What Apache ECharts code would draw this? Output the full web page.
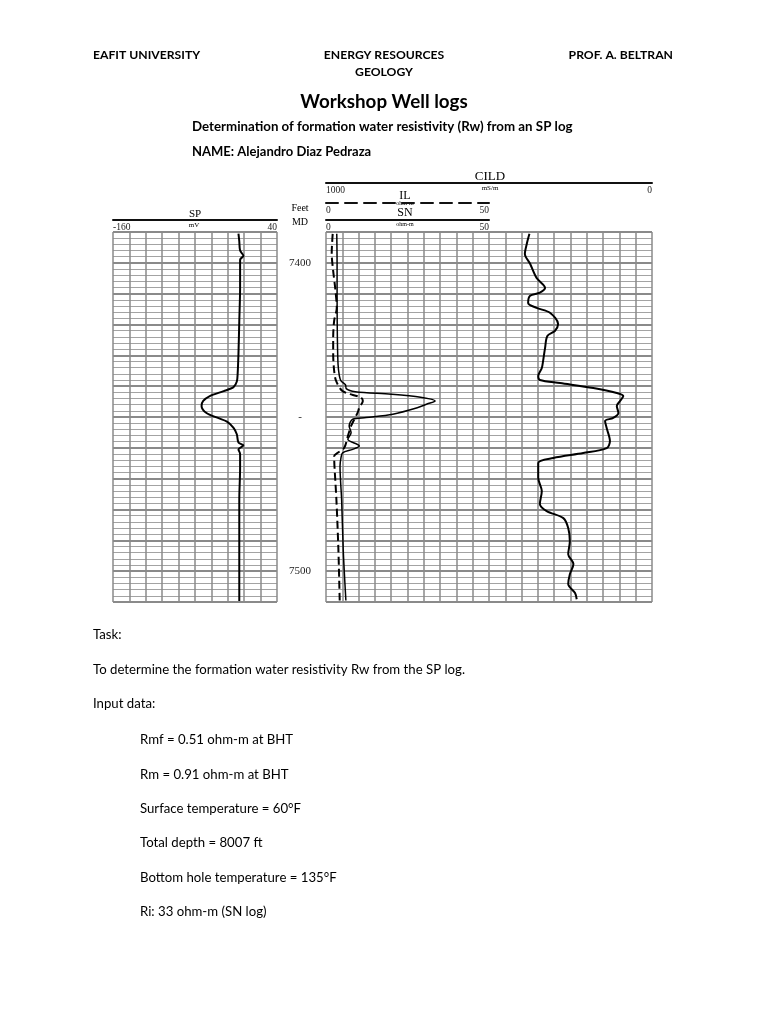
<!DOCTYPE html>
<html>
<head>
<meta charset="utf-8">
<script src="https://cdn.jsdelivr.net/npm/echarts@6/dist/echarts.min.js"></script>
<style>
	html, body { margin: 0; padding: 0; background: #fff; }
	#page { width: 768px; height: 1024px; }
</style>
</head>
<body>
<div id="page"></div>
<script>
// depth range of the log (feet MD)
var depthMin = 7390;
var depthMax = 7510;

// SP curve (mV)
var spDepth = [7390.5, 7393, 7396, 7397.7, 7399, 7402.5, 7408, 7419, 7429.5, 7436, 7438.5, 7440.3, 7441.6, 7443.2, 7444.8, 7446.4, 7448.7, 7450.3, 7451.5, 7453.5, 7455.6, 7458.3, 7459.2, 7460.5, 7462, 7466.5, 7477, 7488, 7509.7];
var spMv = [-7, -6, -5, -1, -5, -5, -5, -6, -7, -8, -9, -13, -25, -42, -50, -52, -46, -32, -21, -13, -9, -7, -1, -7, -5, -5, -6, -6, -6];

// IL curve (ohm-m), dashed
var ilDepth = [7390.6, 7397, 7402.6, 7408, 7414.6, 7418.8, 7424.4, 7429.5, 7435, 7438.3, 7441.6, 7443.7, 7444.8, 7447, 7448.6, 7452.9, 7456.2, 7460, 7461.6, 7462.7, 7466, 7477, 7493, 7509.5];
var ilOhm = [2.05, 1.75, 2.2, 2.8, 3.3, 2.5, 2.2, 2.2, 2.5, 3.1, 5.1, 10.7, 11.3, 10.2, 9.7, 7.7, 6.7, 5.6, 3.6, 2.5, 2.6, 3.2, 3.8, 4.2];

// SN curve (ohm-m)
var snDepth = [7390.6, 7400, 7412, 7425, 7433, 7436.7, 7438.3, 7439.6, 7440.8, 7441.8, 7442.6, 7443.6, 7444.8, 7445.8, 7447, 7449.1, 7450.2, 7450.7, 7452.9, 7455.1, 7457.2, 7459.4, 7460.5, 7461.6, 7463.2, 7466, 7477, 7493.5, 7509.5];
var snOhm = [3.3, 3.4, 3.4, 3.5, 3.7, 4.1, 4.6, 6.0, 6.2, 9, 20, 29, 33.5, 31, 28, 20.5, 12.3, 8.2, 7.1, 7.7, 6.7, 10.2, 8.2, 5.1, 4.6, 4.3, 4.8, 5.3, 6.1];

// CILD curve (mS/m)
var cildDepth = [7390.6, 7393.8, 7397.1, 7400.3, 7404.9, 7408.1, 7409.7, 7410.7, 7413, 7414.6, 7416.2, 7419.8, 7422.1, 7423.7, 7427.6, 7431.8, 7434.1, 7436.7, 7438, 7439, 7440.6, 7442.2, 7443.2, 7444.8, 7446.4, 7448.7, 7450.3, 7451.3, 7453.6, 7457.8, 7460.1, 7461.7, 7463.3, 7464.9, 7469.8, 7474, 7478.2, 7480.5, 7482.8, 7486, 7490.3, 7494.5, 7497.7, 7501, 7504.2, 7507.1, 7509.1];
var cildVal = [376, 384, 390, 374, 354, 328, 344, 374, 380, 354, 313, 288, 298, 321, 328, 334, 338, 349, 344, 282, 180, 108, 88, 98, 108, 103, 119, 144, 139, 129, 139, 211, 303, 349, 349, 338, 344, 323, 272, 257, 252, 257, 241, 252, 257, 236, 231];

// tick labels
var depthLabels = { 7400: '7400', 7450: '-', 7500: '7500' };
var spLabels = { '-160': '-160', '40': '40' };
var cildLabels = { '1000': '1000', '0': '0' };
var resLabels = { '0': '0', '50': '50' };

// document text
var headerLines = ['EAFIT UNIVERSITY', 'ENERGY RESOURCES', 'GEOLOGY', 'PROF. A. BELTRAN'];
var titleText = 'Workshop Well logs';
var subtitleText = 'Determination of formation water resistivity (Rw) from an SP log';
var nameText = 'NAME: Alejandro Diaz Pedraza';
var taskLines = ['Task:', 'To determine the formation water resistivity Rw from the SP log.', 'Input data:'];
var inputLines = ['Rmf = 0.51 ohm-m at BHT', 'Rm = 0.91 ohm-m at BHT', 'Surface temperature = 60°F', 'Total depth = 8007 ft', 'Bottom hole temperature = 135°F', 'Ri: 33 ohm-m (SN log)'];

function pairs(vals, depths) {
	var out = [];
	for (var i = 0; i < vals.length; i++) {
		out.push([vals[i], depths[i]]);
	}
	return out;
}

function txt(s, x, y, font, align) {
	align = align || 'left';
	return {
		type : 'text',
		x : x,
		y : y,
		silent : true,
		style : {
			text : s,
			font : font,
			fill : '#000',
			align : align,
			textAlign : align,
			verticalAlign : 'middle',
			textVerticalAlign : 'middle'
		}
	};
}

var sans = 'Lato, "Open Sans", sans-serif';
var serif = '"Liberation Serif", "DejaVu Serif", serif';
var gridGray = '#8a8a8a';
var minorGray = '#a3a3a3';

function depthAxis(gridIndex, withLabels) {
	return {
		type : 'value',
		gridIndex : gridIndex,
		inverse : true,
		min : depthMin,
		max : depthMax,
		interval : 10,
		position : 'right',
		axisLine : { show : false },
		axisTick : { show : false },
		axisLabel : {
			show : withLabels,
			margin : 23,
			align : 'center',
			fontFamily : serif,
			fontSize : 11,
			color : '#222',
			formatter : function(v) {
				return depthLabels[v] || '';
			}
		},
		splitLine : { show : true, lineStyle : { color : gridGray, width : 2 } },
		minorTick : { show : false, splitNumber : 5 },
		minorSplitLine : { show : true, lineStyle : { color : minorGray, width : 1 } }
	};
}

function trackAxis(gridIndex, min, max, interval, offset, labels, lineType, split) {
	return {
		type : 'value',
		gridIndex : gridIndex,
		min : min,
		max : max,
		interval : interval,
		position : 'top',
		offset : offset,
		axisLine : { show : true, onZero : false, lineStyle : { color : '#111', width : 2, type : lineType } },
		axisTick : { show : false },
		axisLabel : {
			inside : true,
			margin : 2,
			fontFamily : serif,
			fontSize : 9.5,
			color : '#222',
			alignMinLabel : 'left',
			alignMaxLabel : 'right',
			formatter : function(v) {
				return labels[String(v)] || '';
			}
		},
		splitLine : { show : split, lineStyle : { color : gridGray, width : 1.5 } }
	};
}

var graphics = [
	txt(headerLines[0], 93, 55, 'bold 12.2px ' + sans, 'left'),
	txt(headerLines[1], 384, 55, 'bold 12.2px ' + sans, 'center'),
	txt(headerLines[2], 384, 72, 'bold 12.2px ' + sans, 'center'),
	txt(headerLines[3], 673, 55, 'bold 12.2px ' + sans, 'right'),
	txt(titleText, 384, 102, 'bold 18.8px ' + sans, 'center'),
	txt(subtitleText, 192, 127, 'bold 13.3px ' + sans, 'left'),
	txt(nameText, 192, 152, 'bold 13px ' + sans, 'left'),
	// log headers
	txt('SP', 195, 214, '11px ' + serif, 'center'),
	txt('mV', 194, 225, '7px ' + serif, 'center'),
	txt('Feet', 300, 208, '10px ' + serif, 'center'),
	txt('MD', 300, 222, '10px ' + serif, 'center'),
	txt('CILD', 490, 177, '13px ' + serif, 'center'),
	txt('mS/m', 490, 188, '7px ' + serif, 'center'),
	txt('IL', 405, 196, '12px ' + serif, 'center'),
	txt('ohm-m', 405, 203, '6px ' + serif, 'center'),
	txt('SN', 405, 213, '12px ' + serif, 'center'),
	txt('ohm-m', 405, 224, '6px ' + serif, 'center')
];
var taskY = [635, 670, 704];
for (var i = 0; i < taskLines.length; i++) {
	graphics.push(txt(taskLines[i], 93, taskY[i], '13.2px ' + sans, 'left'));
}
for (var j = 0; j < inputLines.length; j++) {
	graphics.push(txt(inputLines[j], 140, 740 + j * 34.4, '13.2px ' + sans, 'left'));
}

var curveStyle = { color : '#000', width : 2 };

var option = {
	animation : false,
	backgroundColor : '#fff',
	grid : [
		{ left : 113, top : 232, width : 164, height : 370 },
		{ left : 326, top : 232, width : 326, height : 370 },
		{ left : 326, top : 232, width : 163, height : 370 }
	],
	xAxis : [
		trackAxis(0, -160, 40, 20, 12, spLabels, 'solid', true),
		(function() {
			var a = trackAxis(1, 0, 1000, 50, 49, cildLabels, 'solid', true);
			a.inverse = true;
			a.axisLabel.alignMinLabel = 'right';
			a.axisLabel.alignMaxLabel = 'left';
			return a;
		})(),
		trackAxis(2, 0, 50, 5, 29, resLabels, [12, 7], false),
		trackAxis(2, 0, 50, 5, 12, resLabels, 'solid', false)
	],
	yAxis : [
		depthAxis(0, true),
		depthAxis(1, false),
		(function() {
			var a = depthAxis(2, false);
			a.show = false;
			return a;
		})()
	],
	series : [
		{
			name : 'SP', type : 'line', xAxisIndex : 0, yAxisIndex : 0,
			data : pairs(spMv, spDepth), showSymbol : false, smooth : 0.3,
			lineStyle : curveStyle
		},
		{
			name : 'CILD', type : 'line', xAxisIndex : 1, yAxisIndex : 1,
			data : pairs(cildVal, cildDepth), showSymbol : false, smooth : 0.3,
			lineStyle : curveStyle
		},
		{
			name : 'IL', type : 'line', xAxisIndex : 2, yAxisIndex : 2,
			data : pairs(ilOhm, ilDepth), showSymbol : false, smooth : 0.3,
			lineStyle : { color : '#000', width : 2, type : [8, 4] }
		},
		{
			name : 'SN', type : 'line', xAxisIndex : 3, yAxisIndex : 2,
			data : pairs(snOhm, snDepth), showSymbol : false, smooth : 0.3,
			lineStyle : { color : '#000', width : 1.5 }
		}
	],
	graphic : graphics
};

var chart = echarts.init(document.getElementById('page'), null, { renderer : 'canvas' });
chart.setOption(option);
</script>
</body>
</html>
